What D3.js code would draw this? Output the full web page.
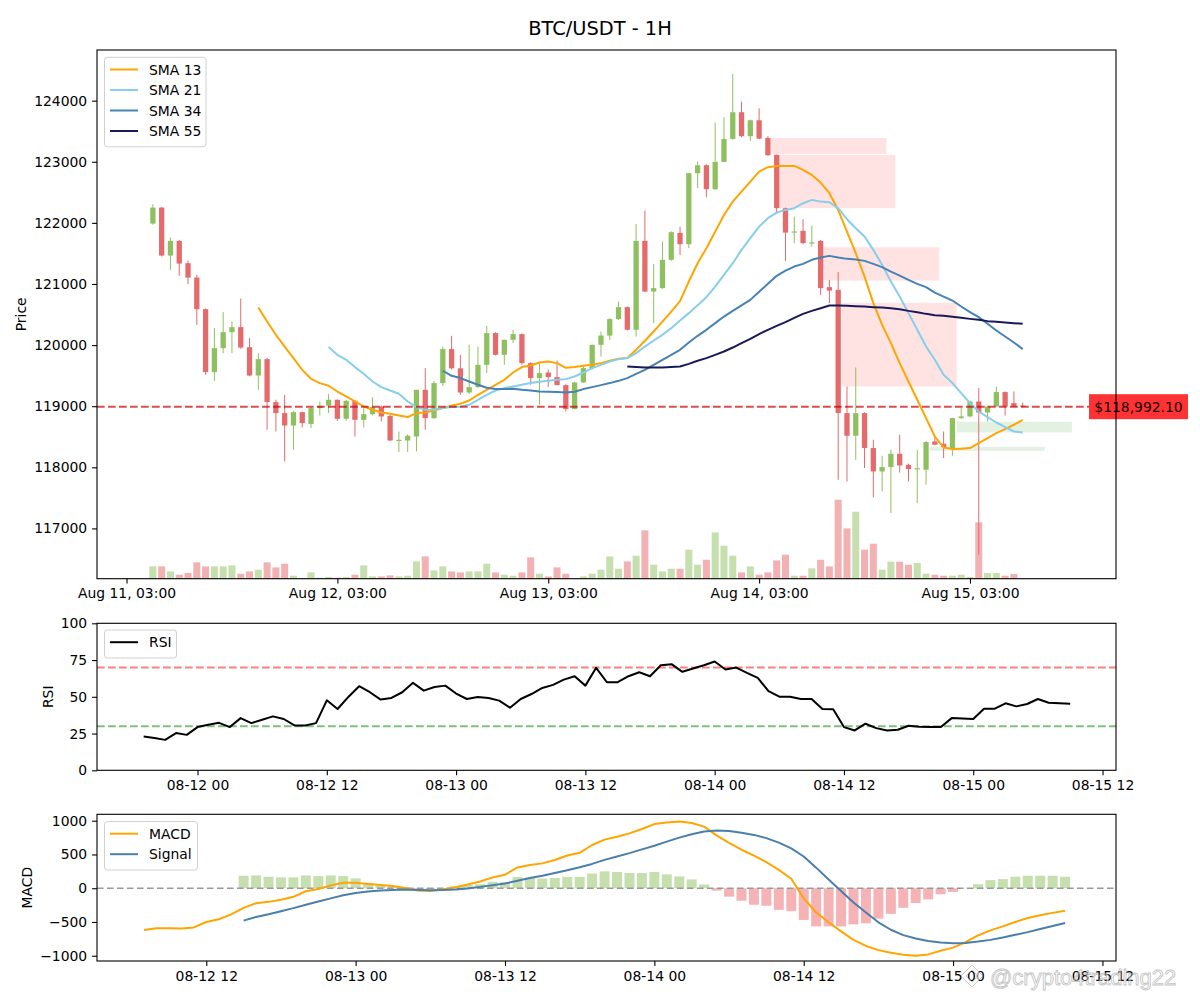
<!DOCTYPE html>
<html><head><meta charset="utf-8">
<script src="https://cdn.jsdelivr.net/npm/d3@7"></script>
<style>body{margin:0;background:#fff;} svg{display:block;font-family:"DejaVu Sans",sans-serif;}</style>
</head><body>
<svg id="c" width="1200" height="1000"></svg>
<script>
// ---------------- DATA ----------------
const title = "BTC/USDT - 1H";
const startTime = "2025-08-11T06:00:00Z"; // first hourly candle
const opens = [
121988,122250,121465,121705,121340,121105,120588,119558,119950,120212,
120294,119966,119502,119770,119067,118887,118684,118903,118710,118969,
119010,119105,118794,119088,118777,118870,118995,118840,118439,118439,
118505,119268,118805,119378,119934,119620,119224,119312,119677,120196,
119841,120086,120179,119705,119460,119551,119476,119345,118953,119388,
119623,120004,120156,120425,120621,120250,121705,120876,120932,121395,
121836,121651,122813,122943,122551,122997,123374,123810,123418,123679,
123390,123112,122240,121841,121870,121668,121705,120948,120904,118887,
118516,118887,118315,117932,118004,118221,118040,117971,117960,118423,
118385,118315,118805,118832,119077,118897,118995,119231,119050,119010];
const highs = [
122305,122260,121760,121720,121383,121149,120600,120277,120539,120385,
120762,120114,119868,119790,119105,119186,118920,118910,118980,119077,
119203,119110,119100,119100,118969,119142,119010,118860,118586,118540,
119268,119623,119415,119976,120151,119840,120004,119976,120315,120210,
120090,120250,120190,119720,119705,119600,119748,119360,119400,119677,
120010,120220,120440,120712,120630,121983,122201,121329,121694,121860,
121939,122820,123002,122960,123640,123728,124437,123984,123690,123876,
123420,123120,122250,122103,122060,121955,121720,121067,121198,119322,
119633,118900,118450,118189,118287,118532,118060,118287,118430,118504,
118586,118810,118969,119090,119296,119010,119322,119240,119240,119060];
const lows = [
121970,121450,121231,121133,120997,120330,119513,119415,119868,119868,
119940,119490,119268,118614,118586,118095,118287,118652,118641,118848,
118887,118760,118760,118504,118650,118850,118750,118430,118249,118249,
118259,118614,118790,119334,119600,119186,119200,119300,119541,119830,
119677,120032,119680,119350,119023,119312,119340,118913,118950,119380,
119600,119813,120086,120410,120240,120140,120870,120359,120920,121380,
121476,121586,122567,122420,122540,122990,123360,123400,123341,123370,
123100,122147,121378,121668,121650,121612,120822,120686,117796,117768,
118123,117988,117507,117605,117251,117915,117768,117415,117714,118360,
118151,118189,118790,118820,116569,118750,118990,118848,118990,118980];
const closes = [
122250,121465,121705,121334,121105,120588,119558,119950,120212,120294,
119960,119502,119770,119067,118887,118684,118903,118724,118969,119006,
119105,118794,119088,118777,118870,118985,118832,118439,118450,118516,
119268,118805,119378,119934,119620,119224,119312,119677,120196,119841,
120086,120179,119705,119460,119541,119476,119345,118953,119388,119623,
120004,120156,120425,120621,120250,121705,120876,120932,121395,121848,
121651,122813,122943,122551,122997,123374,123810,123418,123679,123378,
123107,122240,121841,121860,121668,121680,120932,120892,118887,118516,
118887,118315,117932,118004,118221,118030,117971,117985,118413,118369,
118331,118805,118832,119077,118897,118995,119231,118995,118995,118992.10];
const volumes = [
308,308,183,100,143,408,308,308,308,333,
125,183,225,408,283,375,75,18,158,25,
43,25,43,100,333,58,58,83,58,75,
433,558,208,308,183,158,183,183,375,158,
100,75,158,533,125,58,283,125,18,58,
125,225,558,250,433,575,1208,350,183,250,
250,725,350,475,1158,825,575,158,308,100,
158,458,600,75,75,258,475,308,1975,1258,
1675,725,875,225,425,425,350,393,125,100,
75,75,100,43,1408,143,143,75,118,12];

// SMA series (first value index given by *Start)
const sma13Start = 12;
const sma13 = [120614,120385,120168,119976,119787,119595,119448,119378,119334,119240,
119159,119077,118995,118941,118897,118876,118848,118822,118887,118897,118930,118969,119006,
119039,119093,119186,119268,119350,119432,119551,119640,119666,119715,119731,119705,119628,
119640,119661,119677,119705,119743,119775,119787,119922,120070,120222,120385,120549,120720,
121040,121340,121586,121857,122130,122348,122512,122675,122839,122911,122932,122932,122932,
122867,122785,122659,122485,122212,121857,121504,121121,120686,120330,120032,119705,119404,
119105,118805,118504,118325,118298,118304,118315,118396,118478,118560,118625,118696,118777];
const sma21Start = 20;
const sma21 = [119967,119840,119759,119640,119530,119404,119312,119257,119203,119077,
118985,118941,118941,118969,118985,118990,119023,119105,119186,119257,119296,119322,119350,
119378,119399,119415,119432,119443,119486,119551,119623,119677,119731,119770,119787,119868,
119976,120075,120168,120277,120402,120523,120650,120784,120958,121149,121340,121558,121749,
121939,122077,122168,122212,122240,122322,122376,122348,122338,122240,122060,121913,121776,
121558,121313,121040,120794,120523,120250,119976,119759,119513,119378,119214,119050,118913,
118822,118733,118658,118586,118570];
const sma34Start = 33;
const sma34 = [119580,119497,119460,119404,119350,119301,119280,119280,119285,119268,
119257,119240,119236,119231,119224,119236,119280,119312,119345,119378,119415,119460,119530,
119595,119677,119759,119840,119922,120042,120152,120250,120359,120467,120560,120650,120740,
120871,121002,121133,121217,121285,121329,121395,121432,121460,121432,121411,121399,121378,
121329,121275,121203,121138,121067,121002,120948,120860,120794,120729,120631,120539,120457,
120348,120238,120140,120042,119934];
const sma55Start = 54;
const sma55 = [119649,119640,119633,119633,119633,119640,119649,119693,119743,119787,
119840,119895,119960,120032,120102,120179,120250,120315,120375,120445,120511,120560,120604,
120647,120647,120642,120637,120631,120621,120614,120604,120588,120560,120539,120511,120490,
120479,120462,120446,120429,120413,120392,120380,120369,120359,120348];

// price zones: [start candle, end candle, top, bottom, kind]
const zones = [
  [70.4, 83.5, 123390, 123128, "bear"],
  [71.0, 84.5, 123112, 122240, "bear"],
  [76.3, 89.5, 121602, 121056, "bear"],
  [78.4, 91.5, 120691, 119322, "bear"],
  [91.5, 104.6, 118745, 118570, "bull"],
  [88.4, 101.5, 118336, 118270, "bull"]
];

const rsiStart = 13;
const rsi = [23,21.9,20.7,25.3,24.1,29.4,31,32.3,29.4,35.5,32.1,34.4,36.7,34.9,30.5,30.5,32.1,
47.6,41.7,49.9,57.2,53.1,48.1,49.2,53.1,59.5,54.2,56.7,57.6,52.2,48.5,49.9,49.2,47.4,42.6,
48.5,51.9,56,58.1,61.7,64,57.6,69.7,59.9,59.9,64,66.7,64,71.5,72.2,67,69.2,71.5,74,68.6,
69.9,66.3,62.9,53.8,50.1,50.1,48.5,48.5,41.7,41.5,29.4,27.1,31.7,28.7,27.1,27.6,30.3,29.6,
29.4,29.4,35.5,35.3,34.9,41.9,41.9,45.6,43.5,45.1,48.5,46,45.6,45.3];

const macdStart = 25;
const macd = [-620,-592,-594,-596,-580,-500,-460,-388,-291,-223,-202,-170,-127,-45,-12,42,82,
80,62,48,32,2,-33,-42,-20,15,55,100,160,200,308,343,368,418,485,525,640,720,762,812,877,950,
972,990,966,912,782,672,570,482,388,272,140,-150,-360,-505,-640,-765,-855,-917,-957,-985,
-1000,-980,-925,-880,-800,-700,-625,-565,-500,-440,-400,-365,-335];
const signalStart = 33;
const signal = [-480,-425,-385,-340,-295,-245,-198,-150,-104,-70,-50,-35,-25,-20,-25,-30,-28,
-20,-5,20,45,70,110,150,185,225,265,310,360,420,470,520,575,630,690,750,800,840,855,848,822,
790,742,675,590,470,305,130,-40,-210,-360,-505,-615,-695,-745,-782,-805,-815,-810,-790,-765,
-730,-690,-650,-605,-560,-515];
const histStart = 33;
const hist = [185,190,170,160,160,190,180,190,180,145,80,45,25,10,-10,-12,5,30,50,60,95,90,
168,155,143,153,168,168,217,250,240,225,225,240,205,175,130,55,-35,-125,-185,-245,-260,-320,
-340,-470,-565,-565,-565,-535,-520,-450,-380,-290,-220,-165,-90,-55,5,60,120,135,170,185,185,
185,170];

const priceTicks = [117000,118000,119000,120000,121000,122000,123000,124000];
const mainTimeTicks = ["2025-08-11T03:00:00Z","2025-08-12T03:00:00Z","2025-08-13T03:00:00Z","2025-08-14T03:00:00Z","2025-08-15T03:00:00Z"];
const rsiTicks = [0,25,50,75,100];
const rsiTimeTicks = ["2025-08-12T00:00:00Z","2025-08-12T12:00:00Z","2025-08-13T00:00:00Z","2025-08-13T12:00:00Z","2025-08-14T00:00:00Z","2025-08-14T12:00:00Z","2025-08-15T00:00:00Z","2025-08-15T12:00:00Z"];
const macdTicks = [-1000,-500,0,500,1000];
const macdTimeTicks = ["2025-08-12T12:00:00Z","2025-08-13T00:00:00Z","2025-08-13T12:00:00Z","2025-08-14T00:00:00Z","2025-08-14T12:00:00Z","2025-08-15T00:00:00Z","2025-08-15T12:00:00Z"];
const smaLegend = [["SMA 13","orange"],["SMA 21","skyblue"],["SMA 34","steelblue"],["SMA 55","#191a5a"]];
const watermark = "@crypto4trading22";

// ---------------- LAYOUT ----------------
const W = 1200, H = 1000, L = 97, R = 1116;
const P1 = {top: 50, bottom: 578.7}, P2 = {top: 623.3, bottom: 770.3}, P3 = {top: 814.3, bottom: 961};
const FONT = "DejaVu Sans", FS = 13.9;
const GREEN = "#8fc05f", RED = "#e46a6c", GREEN_L = "#c5dfae", RED_L = "#f2b2b4";
const HOUR = 3600e3, t0 = new Date(startTime).getTime();
const tAt = i => new Date(t0 + i * HOUR);

const svg = d3.select("#c");
svg.append("rect").attr("width", W).attr("height", H).attr("fill", "#fff");

const xMain = d3.scaleUtc().domain([tAt(-6.36), tAt(109.62)]).range([L, R]);
const xRsi = d3.scaleUtc().domain([tAt(8.67), tAt(103.25)]).range([L, R]);
const xMacd = d3.scaleUtc().domain([tAt(21.22), tAt(103.09)]).range([L, R]);
const yMain = d3.scaleLinear().domain([116177, 124829]).range([P1.bottom, P1.top]);
const yVol = d3.scaleLinear().domain([0, 13218]).range([P1.bottom, P1.top]);
const yRsi = d3.scaleLinear().domain([0, 100]).range([P2.bottom, P2.top]);
const yMacd = d3.scaleLinear().domain([-1078, 1095]).range([P3.bottom, P3.top]);

const hw = (x, w) => x(tAt(w)) - x(tAt(0)); // width of w hours

// title
svg.append("text").attr("x", 600).attr("y", 28).attr("text-anchor", "middle")
  .attr("dominant-baseline", "central").attr("font-family", FONT).attr("font-size", 19.4).text(title);

// ---------- MAIN PANEL ----------
const gMain = svg.append("g");
// zones
gMain.selectAll("rect.zone").data(zones).join("rect").attr("class", "zone")
  .attr("x", d => xMain(tAt(d[0]))).attr("width", d => xMain(tAt(d[1])) - xMain(tAt(d[0])))
  .attr("y", d => yMain(d[2])).attr("height", d => yMain(d[3]) - yMain(d[2]))
  .attr("fill", d => d[4] === "bear" ? "#ff0000" : "#008000").attr("fill-opacity", 0.11);

const candles = closes.map((c, i) => ({i, o: opens[i], h: highs[i], l: lows[i], c, v: volumes[i], up: c >= opens[i]}));
// volume
const vw = hw(xMain, 0.8);
gMain.selectAll("rect.vol").data(candles).join("rect").attr("class", "vol")
  .attr("x", d => xMain(tAt(d.i)) - vw / 2).attr("width", vw)
  .attr("y", d => yVol(d.v)).attr("height", d => yVol(0) - yVol(d.v))
  .attr("fill", d => d.up ? GREEN_L : RED_L);
// wicks
gMain.selectAll("line.wick").data(candles).join("line").attr("class", "wick")
  .attr("x1", d => xMain(tAt(d.i))).attr("x2", d => xMain(tAt(d.i)))
  .attr("y1", d => yMain(d.h)).attr("y2", d => yMain(d.l))
  .attr("stroke", d => d.up ? GREEN : RED).attr("stroke-width", 1);
// bodies
const bw = hw(xMain, 0.6);
gMain.selectAll("rect.body").data(candles).join("rect").attr("class", "body")
  .attr("x", d => xMain(tAt(d.i)) - bw / 2).attr("width", bw)
  .attr("y", d => yMain(Math.max(d.o, d.c)))
  .attr("height", d => Math.max(1.2, Math.abs(yMain(d.o) - yMain(d.c))))
  .attr("fill", d => d.up ? GREEN : RED);

// SMAs
function seriesLine(g, arr, start, x, y, color, width) {
  const pts = arr.map((v, k) => [start + k, v]);
  g.append("path").datum(pts)
    .attr("d", d3.line().x(d => x(tAt(d[0]))).y(d => y(d[1])))
    .attr("fill", "none").attr("stroke", color).attr("stroke-width", width)
    .attr("stroke-linejoin", "round").attr("stroke-linecap", "butt");
}
seriesLine(gMain, sma13, sma13Start, xMain, yMain, smaLegend[0][1], 2);
seriesLine(gMain, sma21, sma21Start, xMain, yMain, smaLegend[1][1], 2);
seriesLine(gMain, sma34, sma34Start, xMain, yMain, smaLegend[2][1], 2);
seriesLine(gMain, sma55, sma55Start, xMain, yMain, smaLegend[3][1], 2);

// current price line + tag
const last = closes[closes.length - 1];
gMain.append("line").attr("x1", L).attr("x2", R).attr("y1", yMain(last)).attr("y2", yMain(last))
  .attr("stroke", "#cc0000").attr("stroke-opacity", 0.7).attr("stroke-width", 2).attr("stroke-dasharray", "7.7,3.3");
svg.append("rect").attr("x", 1089).attr("y", yMain(last) - 12.5).attr("width", 99).attr("height", 25)
  .attr("fill", "#ff3333");
svg.append("text").attr("x", 1138.5).attr("y", yMain(last)).attr("text-anchor", "middle")
  .attr("dominant-baseline", "central").attr("font-family", FONT).attr("font-size", FS).attr("fill", "#1a0000")
  .text("$" + d3.format(",.2f")(last));

// ---------- RSI PANEL ----------
const gRsi = svg.append("g");
gRsi.append("line").attr("x1", L).attr("x2", R).attr("y1", yRsi(70)).attr("y2", yRsi(70))
  .attr("stroke", "red").attr("stroke-opacity", 0.5).attr("stroke-width", 2).attr("stroke-dasharray", "7.7,3.3");
gRsi.append("line").attr("x1", L).attr("x2", R).attr("y1", yRsi(30)).attr("y2", yRsi(30))
  .attr("stroke", "green").attr("stroke-opacity", 0.5).attr("stroke-width", 2).attr("stroke-dasharray", "7.7,3.3");
seriesLine(gRsi, rsi, rsiStart, xRsi, yRsi, "#000", 2);

// ---------- MACD PANEL ----------
const gMacd = svg.append("g");
const hb = hw(xMacd, 0.8);
const histPts = hist.map((v, k) => ({i: histStart + k, v}));
gMacd.selectAll("rect.hist").data(histPts).join("rect").attr("class", "hist")
  .attr("x", d => xMacd(tAt(d.i)) - hb / 2).attr("width", hb)
  .attr("y", d => yMacd(Math.max(0, d.v))).attr("height", d => Math.abs(yMacd(d.v) - yMacd(0)))
  .attr("fill", d => d.v >= 0 ? GREEN_L : "#f5b3b6");
gMacd.append("line").attr("x1", L).attr("x2", R).attr("y1", yMacd(0)).attr("y2", yMacd(0))
  .attr("stroke", "#999").attr("stroke-width", 1.6).attr("stroke-dasharray", "6.5,3.5");
seriesLine(gMacd, macd, macdStart, xMacd, yMacd, "orange", 2);
seriesLine(gMacd, signal, signalStart, xMacd, yMacd, "#4a7fab", 2);

// ---------- FRAMES & AXES ----------
function frame(P) {
  svg.append("rect").attr("x", L).attr("y", P.top).attr("width", R - L).attr("height", P.bottom - P.top)
    .attr("fill", "none").attr("stroke", "#000").attr("stroke-width", 1.1);
}
function styleAxis(g) {
  g.select(".domain").remove();
  g.attr("font-family", FONT).attr("font-size", FS);
  g.selectAll("text").attr("fill", "#000");
  g.selectAll("line").attr("stroke", "#000").attr("stroke-width", 1.1);
}
function xAxis(scale, P, ticks, fmt) {
  const g = svg.append("g").attr("transform", `translate(0,${P.bottom})`)
    .call(d3.axisBottom(scale).tickValues(ticks.map(s => new Date(s))).tickFormat(fmt).tickSize(4.9).tickPadding(4.9));
  styleAxis(g);
}
function yAxis(scale, ticks, fmt) {
  const g = svg.append("g").attr("transform", `translate(${L},0)`)
    .call(d3.axisLeft(scale).tickValues(ticks).tickFormat(fmt).tickSize(4.9).tickPadding(4.9));
  styleAxis(g);
}
[P1, P2, P3].forEach(frame);
xAxis(xMain, P1, mainTimeTicks, d3.utcFormat("%b %d, %H:%M"));
xAxis(xRsi, P2, rsiTimeTicks, d3.utcFormat("%m-%d %H"));
xAxis(xMacd, P3, macdTimeTicks, d3.utcFormat("%m-%d %H"));
yAxis(yMain, priceTicks, d3.format("d"));
yAxis(yRsi, rsiTicks, d3.format("d"));
yAxis(yMacd, macdTicks, d3.format("d"));

function yLabel(txt, x, P) {
  const cy = (P.top + P.bottom) / 2;
  svg.append("text").attr("transform", `translate(${x},${cy}) rotate(-90)`).attr("text-anchor", "middle")
    .attr("dominant-baseline", "central").attr("font-family", FONT).attr("font-size", FS).text(txt);
}
yLabel("Price", 21, P1);
yLabel("RSI", 48, P2);
yLabel("MACD", 27, P3);

// ---------- LEGENDS ----------
function legend(x, y, w, entries) {
  const rowH = 20.5, h = 12 + entries.length * rowH - 4.5;
  const g = svg.append("g");
  g.append("rect").attr("x", x).attr("y", y).attr("width", w).attr("height", h).attr("rx", 3)
    .attr("fill", "#fff").attr("fill-opacity", 0.8).attr("stroke", "#d0d0d0").attr("stroke-width", 1);
  entries.forEach((e, k) => {
    const cy = y + 12.2 + k * rowH;
    g.append("line").attr("x1", x + 5.5).attr("x2", x + 33.5).attr("y1", cy).attr("y2", cy)
      .attr("stroke", e[1]).attr("stroke-width", 2);
    g.append("text").attr("x", x + 44.5).attr("y", cy).attr("dominant-baseline", "central")
      .attr("font-family", FONT).attr("font-size", FS).text(e[0]);
  });
}
legend(104.5, 57.3, 101.5, smaLegend);
legend(104.5, 630, 72, [["RSI", "#000"]]);
legend(104.5, 821.5, 93, [["MACD", "orange"], ["Signal", "#4a7fab"]]);

// ---------- WATERMARK ----------
const wm = svg.append("g").attr("opacity", 0.6);
wm.append("path").attr("d", "M972,965 L983,976 L972,987 L961,976 Z M972,970 L978,976 L972,982 L966,976 Z")
  .attr("fill", "#fff").attr("stroke", "#aaa").attr("stroke-width", 1).attr("fill-rule", "evenodd");
wm.append("text").attr("x", 990).attr("y", 977).attr("dominant-baseline", "central")
  .attr("font-family", "Liberation Sans").attr("font-size", 22).attr("fill", "#fff")
  .attr("stroke", "#a0a0a0").attr("stroke-width", 0.9).text(watermark);
</script>
</body></html>
